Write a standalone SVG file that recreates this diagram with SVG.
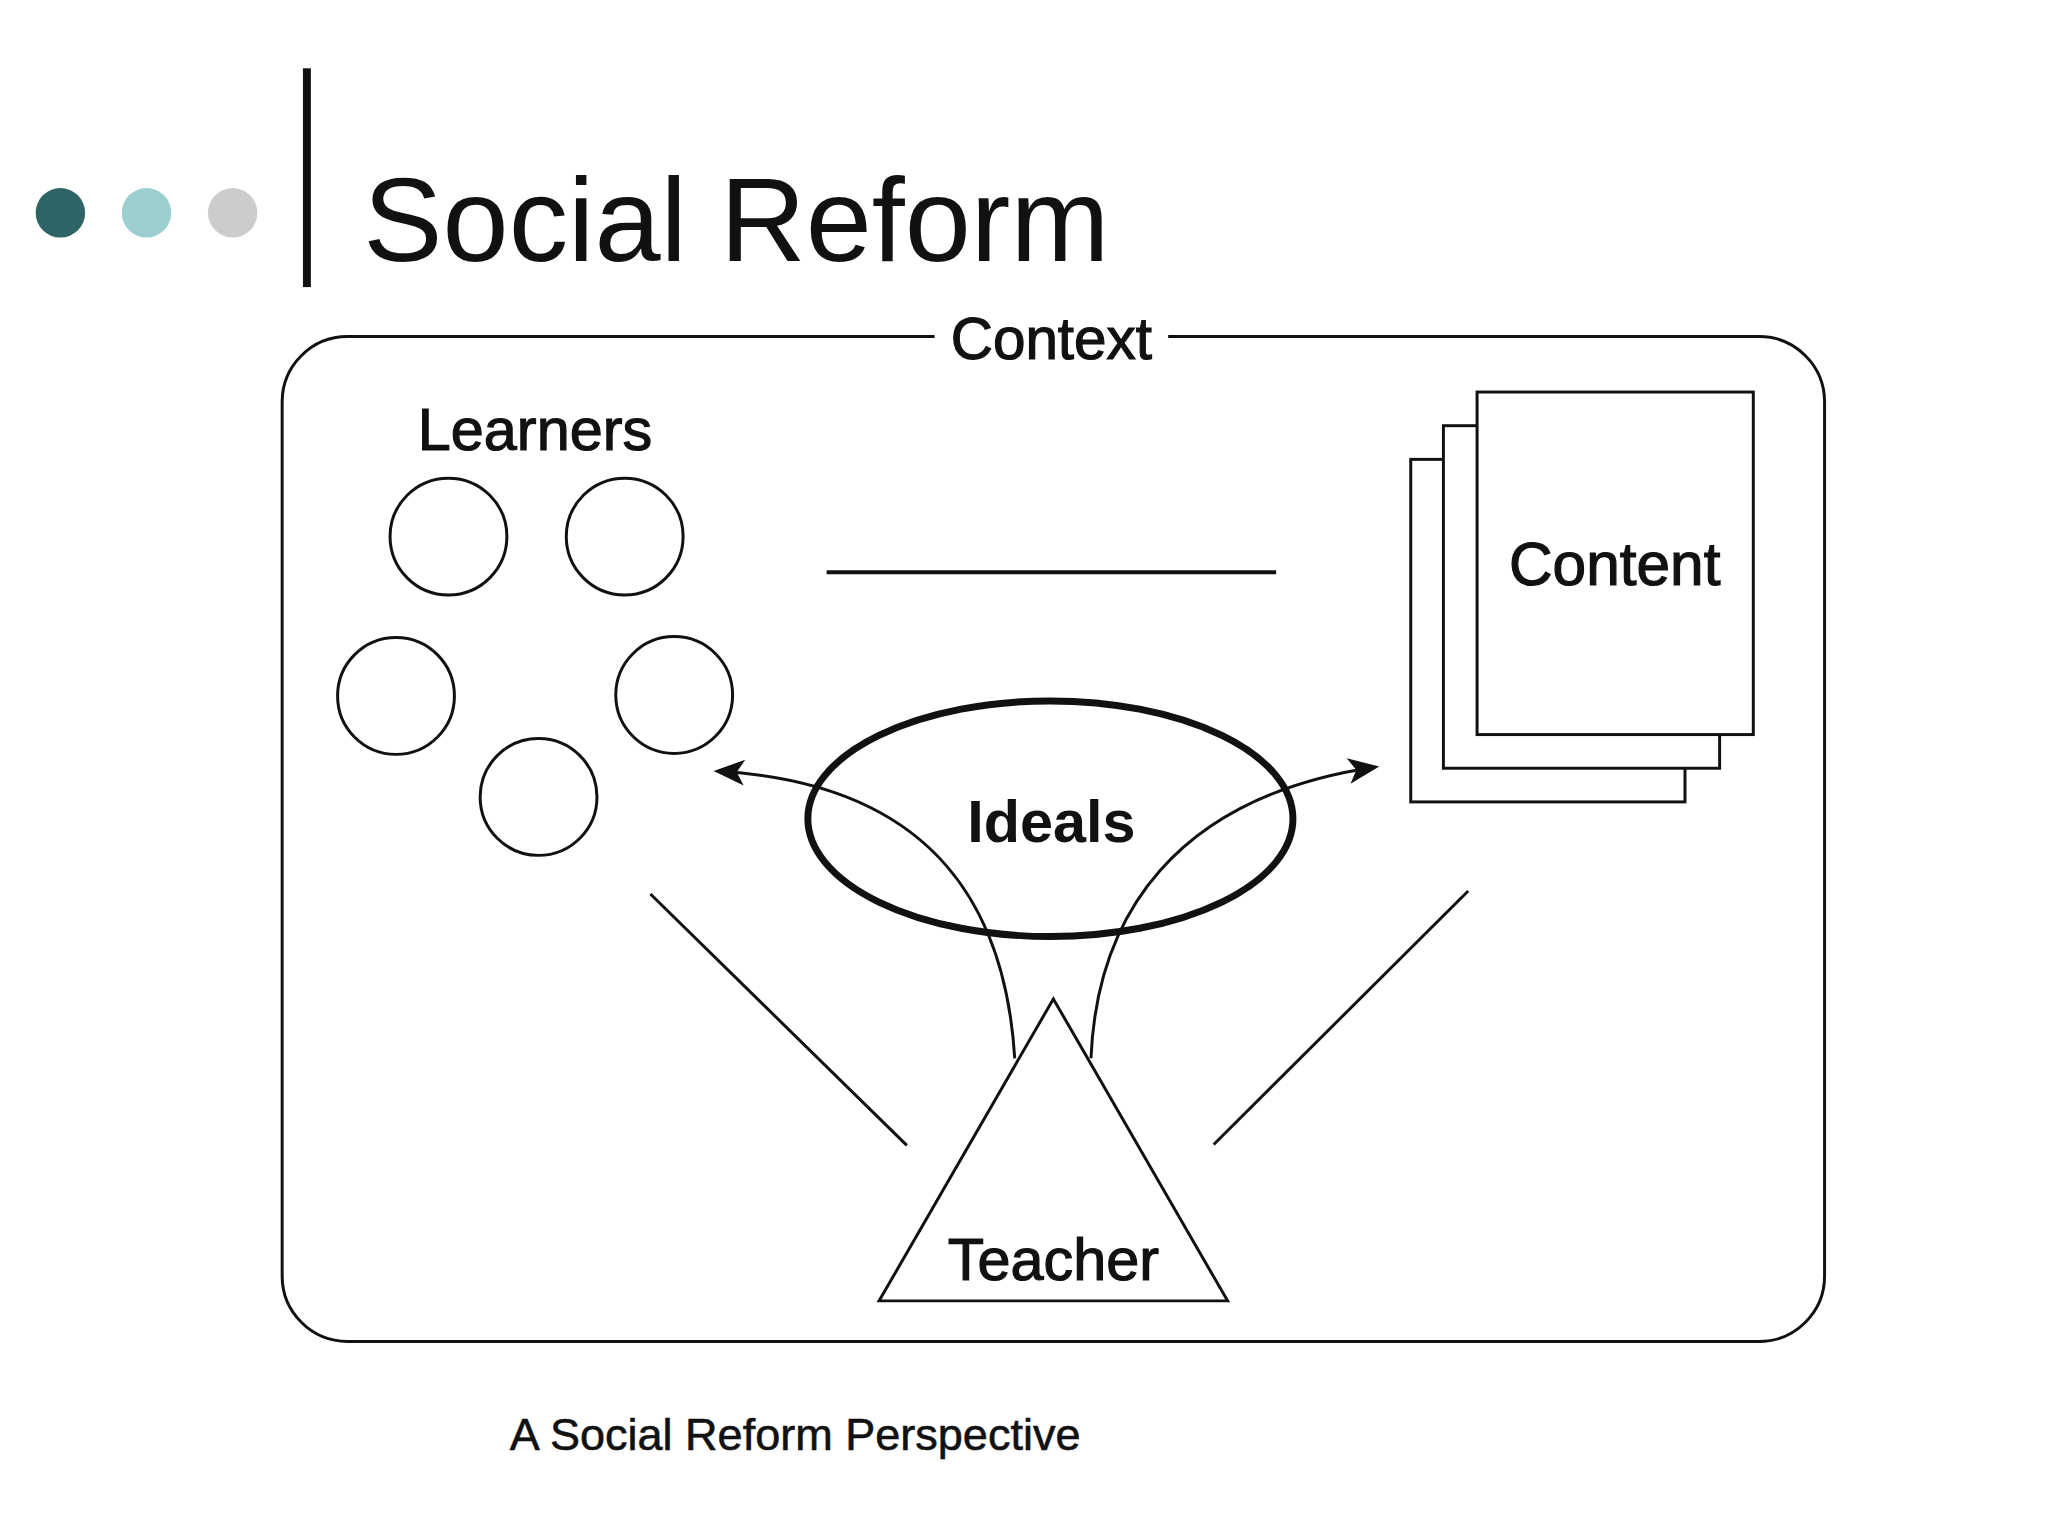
<svg xmlns="http://www.w3.org/2000/svg" width="2048" height="1536" viewBox="0 0 2048 1536">
<defs>
<style>
.t{font-family:"Liberation Sans",Arial,sans-serif;fill:#111}
.m{stroke:#111;stroke-width:1.2}
.s{fill:none;stroke:#111;stroke-width:3}
.l{fill:#fff;stroke:#111;stroke-width:3}
</style>
<marker id="ah2" viewBox="0 0 12 10" refX="10" refY="5" markerWidth="36" markerHeight="26" markerUnits="userSpaceOnUse" orient="auto"><path d="M0,0 L12,5 L0,10 L3,5 Z" fill="#111"/></marker>
</defs>
<rect width="2048" height="1536" fill="#fff"/>
<g transform="scale(0.99)">
<g id="header">
<circle cx="61" cy="215" r="25" fill="#2e6466"/>
<circle cx="148" cy="215" r="25" fill="#9ccfcf"/>
<circle cx="235" cy="215" r="25" fill="#cccccc"/>
<rect x="306" y="69" width="8" height="221" fill="#111"/>
<text class="t" x="367" y="264" font-size="120">Social Reform</text>
</g>
<g id="context">
<rect class="s" x="285" y="340" width="1558" height="1015" rx="66"/>
<rect x="944" y="320" width="236" height="40" fill="#fff"/>
<text class="t m" x="1062" y="363" font-size="59" text-anchor="middle">Context</text>
</g>
<g id="learners">
<text class="t m" x="422" y="455" font-size="60">Learners</text>
<circle class="s" cx="453" cy="542" r="59"/>
<circle class="s" cx="631" cy="542" r="59"/>
<circle class="s" cx="400" cy="703" r="59"/>
<circle class="s" cx="681" cy="702" r="59"/>
<circle class="s" cx="544" cy="805" r="59"/>
</g>
<g id="content">
<rect class="l" x="1425" y="464" width="277" height="346"/>
<rect class="l" x="1458" y="430" width="279" height="346"/>
<rect class="l" x="1492" y="396" width="279" height="346"/>
<text class="t m" x="1631" y="591" font-size="61" text-anchor="middle">Content</text>
</g>
<g id="ideals">
<ellipse cx="1061" cy="827" rx="245" ry="119" fill="none" stroke="#111" stroke-width="7"/>
<text class="t" x="1062" y="851" font-size="60" font-weight="bold" text-anchor="middle">Ideals</text>
</g>
<g id="teacher">
<polygon class="l" points="1064,1009 888,1314 1240,1314"/>
<text class="t m" x="1064" y="1293" font-size="60" text-anchor="middle">Teacher</text>
</g>
<g id="connectors">
<line x1="835" y1="578" x2="1289" y2="578" stroke="#111" stroke-width="4"/>
<path class="s" d="M1025 1069 C1016 924 950 792 726 779" marker-end="url(#ah2)"/>
<path class="s" d="M1102 1069 C1108 924 1188 805 1388 775" marker-end="url(#ah2)"/>
<line class="s" x1="657" y1="903" x2="916" y2="1157"/>
<line class="s" x1="1483" y1="900" x2="1226" y2="1156"/>
</g>
<text class="t" x="515" y="1465" font-size="45.5" stroke="#111" stroke-width="0.6">A Social Reform Perspective</text>
</g>
</svg>
